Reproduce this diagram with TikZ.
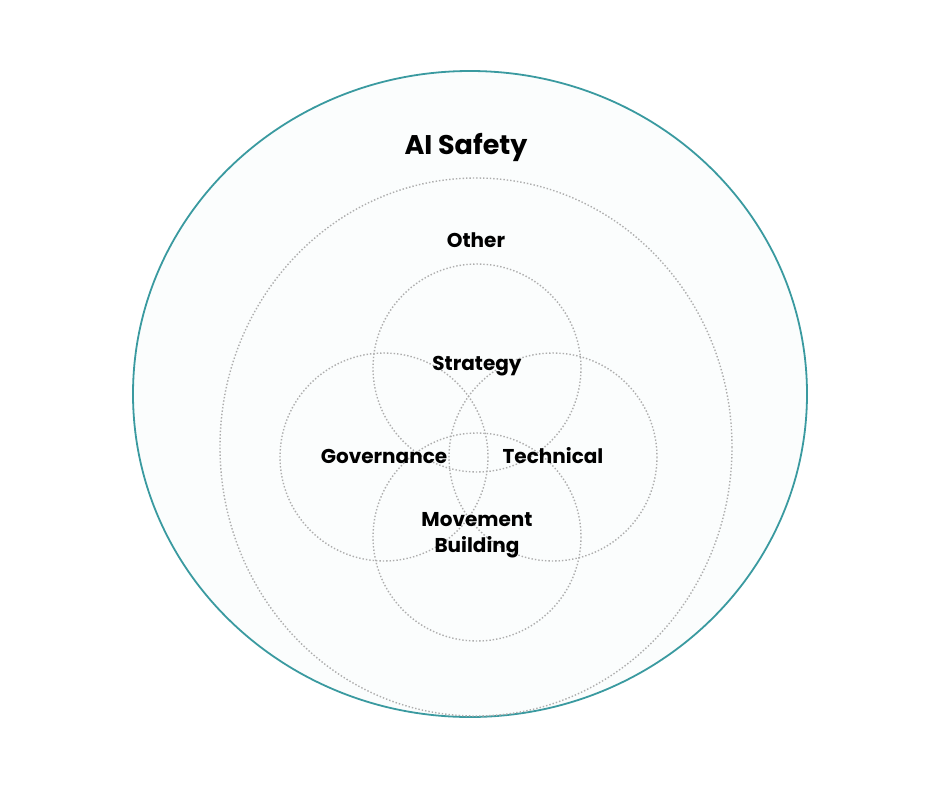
\documentclass[tikz,border=0pt]{standalone}
\usepackage{fontspec}
\setmainfont{Poppins}
\definecolor{teal}{HTML}{3A9AA0}
\definecolor{pale}{HTML}{FBFDFD}
\begin{document}
\begin{tikzpicture}[
  x=1pt, y=-1pt,
  area/.style={draw=black!32, dotted, line width=1.4pt},
  lbl/.style={font=\bfseries\fontsize{20}{24}\selectfont, align=center}
]

\useasboundingbox (0,0) rectangle (940,788);

\draw[draw=teal, fill=pale, line width=1.8pt] (470,394) ellipse (337 and 323);
\draw[area] (476,447) ellipse (256 and 269);

\foreach \cx/\cy in {477/368, 384/457, 553/457, 477/537}
  \draw[area] (\cx,\cy) circle (104);

\node[lbl, font=\bfseries\fontsize{27}{30}\selectfont] (safety) at (466,147) {AI Safety};
\node[lbl] (other) at (476,240) {Other};
\node[lbl] (strategy) at (477,366) {Strategy};
\node[lbl] (governance) at (384,456) {Governance};
\node[lbl] (technical) at (553,456) {Technical};
\node[lbl] (movement) at (477,535) {Movement\\[2pt]Building};

\end{tikzpicture}
\end{document}
